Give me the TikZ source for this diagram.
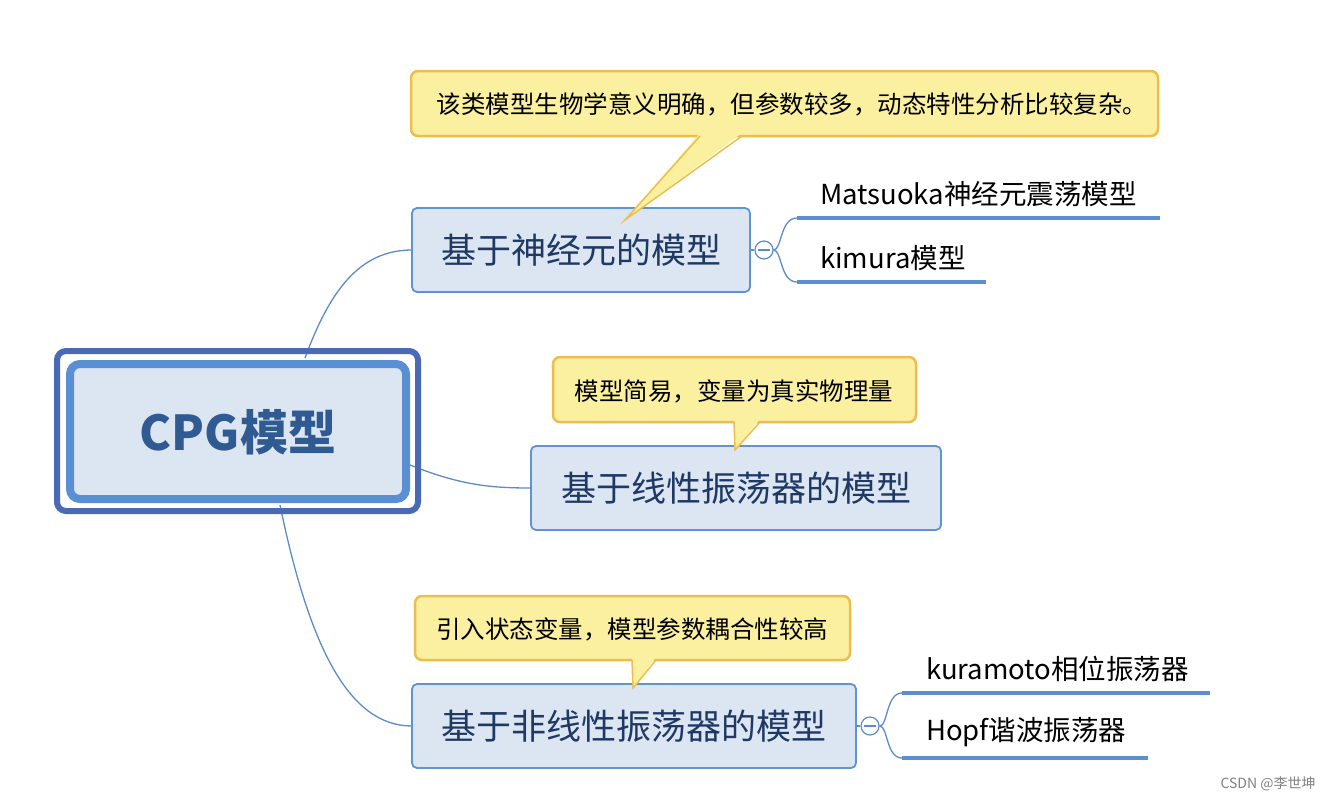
\documentclass[tikz,border=0pt]{standalone}
\usepackage{fontspec}
\setmainfont{Noto Sans CJK SC}
\begin{document}
\begin{tikzpicture}[x=1pt,y=-1pt,
  topic/.style={draw=bord,fill=boxf,line width=1.8pt,rounded corners=5pt,font=\fontsize{35}{37}\selectfont,text=tdark,anchor=center},
  note/.style={draw=yb,fill=yf,line width=2.5pt,rounded corners=7pt},
  link/.style={draw=lnk,line width=1.3pt},
  uline/.style={draw=ul,line width=4pt},
  leaf/.style={font=\fontsize{27.5}{29}\selectfont,anchor=south west,inner sep=0pt},
  ntext/.style={font=\fontsize{24.5}{26}\selectfont,anchor=center}]
\definecolor{boxf}{HTML}{DCE6F2}
\definecolor{bord}{HTML}{5F93D2}
\definecolor{tdark}{HTML}{1F3864}
\definecolor{yf}{HTML}{FBEFA0}
\definecolor{yb}{HTML}{EDBE4E}
\definecolor{lnk}{HTML}{5B8CC8}
\definecolor{ul}{HTML}{5B8FD0}
\definecolor{outer}{HTML}{4A6AB5}
\definecolor{inner}{HTML}{5B8FD4}
\definecolor{ctext}{HTML}{2F5B92}
\useasboundingbox (0,0) rectangle (1327,801);
% connectors
\draw[link] (305,358) .. controls (330,290) and (360,250) .. (412,250);
\draw[link] (410,465) .. controls (460,485) and (490,488) .. (531,488);
\draw[link] (280,505) .. controls (310,650) and (350,726) .. (412,726);
% central
\draw[outer,line width=6pt,rounded corners=9pt] (57,351) rectangle (418,511);
\draw[inner,fill=boxf,line width=8pt,rounded corners=10pt] (70,364) rectangle (406,499);
\node[font=\fontsize{48}{50}\selectfont\bfseries,text=ctext] (cpg) at (238,432) {CPG模型};
% topics
\node[topic,minimum width=338pt,minimum height=84pt] (n1) at (581,250) {基于神经元的模型};
\node[topic,minimum width=410pt,minimum height=84pt] (n2) at (736,488) {基于线性振荡器的模型};
\node[topic,minimum width=444pt,minimum height=84pt] (n3) at (634,726) {基于非线性振荡器的模型};
% callouts
\draw[note] (411,71) rectangle (1158,136);
\fill[yf] (700,133) -- (625,220) -- (742,133) -- cycle;
\draw[yb,line width=1.5pt] (700,136) -- (625,220) -- (742,136);
\node[ntext] (c1) at (792,104) {该类模型生物学意义明确，但参数较多，动态特性分析比较复杂。};
\draw[note] (553,357) rectangle (916,422);
\fill[yf] (734,419) -- (735,450) -- (760,419) -- cycle;
\draw[yb,line width=1.5pt] (734,422) -- (735,450) -- (760,422);
\node[ntext] (c2) at (734,391) {模型简易，变量为真实物理量};
\draw[note] (415,596) rectangle (850,660);
\fill[yf] (632,657) -- (633,688) -- (656,657) -- cycle;
\draw[yb,line width=1.5pt] (632,660) -- (633,688) -- (656,660);
\node[ntext] (c3) at (632,629) {引入状态变量，模型参数耦合性较高};
% subbranches 1
\node[draw=lnk,line width=1.2pt,fill=white,circle,minimum size=18pt,inner sep=0pt] (m1) at (764,250) {};
\draw[lnk,line width=1.2pt] (758,250) -- (770,250);
\draw[link] (n1.east) -- (m1);
\coordinate (u1) at (797,218); \coordinate (u2) at (797,282);
\draw[link] (m1.east) .. controls (782,250) and (780,218) .. (u1);
\draw[link] (m1.east) .. controls (782,250) and (780,282) .. (u2);
\draw[uline] (u1) -- (1160,218);
\draw[uline] (u2) -- (986,282);
\node[leaf] (l1) at (820,207) {Matsuoka神经元震荡模型};
\node[leaf] (l2) at (820,271) {kimura模型};
% subbranches 3
\node[draw=lnk,line width=1.2pt,fill=white,circle,minimum size=18pt,inner sep=0pt] (m3) at (870,726) {};
\draw[lnk,line width=1.2pt] (864,726) -- (876,726);
\draw[link] (n3.east) -- (m3);
\coordinate (u3) at (902,693); \coordinate (u4) at (902,758);
\draw[link] (m3.east) .. controls (888,726) and (886,693) .. (u3);
\draw[link] (m3.east) .. controls (888,726) and (886,758) .. (u4);
\draw[uline] (u3) -- (1210,693);
\draw[uline] (u4) -- (1148,758);
\node[leaf] (l3) at (926,682) {kuramoto相位振荡器};
\node[leaf] (l4) at (926,747) {Hopf谐波振荡器};
\node[font=\fontsize{14}{15}\selectfont,text=gray] (wm) at (1268,784) {CSDN @李世坤};
\end{tikzpicture}
\end{document}
